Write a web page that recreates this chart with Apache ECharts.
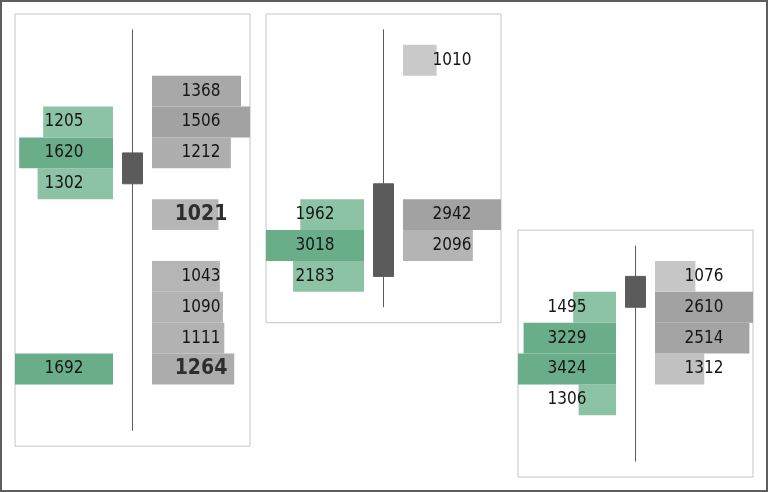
<!DOCTYPE html>
<html>
<head>
<meta charset="utf-8">
<script src="https://cdn.jsdelivr.net/npm/echarts@6/dist/echarts.min.js"></script>
<style>
  html, body { margin: 0; padding: 0; background: #fff; }
  #wrap { position: relative; width: 768px; height: 492px; }
  #chart { width: 768px; height: 492px; }
  #frame { position: absolute; left: 0; top: 0; width: 768px; height: 492px; box-sizing: border-box;
           border: 2px solid #5e5e5e; pointer-events: none; }
</style>
</head>
<body>
<div id="wrap"><div id="chart"></div><div id="frame"></div></div>
<script>
// ---- Data (price levels are row indices, 14 = top row) ----
const candleHigh  = [14, 14, 7];
const candleLow   = [1, 5, 0];
const candleOpen  = [10, 9, 6];
const candleClose = [9, 6, 5];

const bidLevels1 = [11, 10, 9, 3];
const bidVolume1 = [1205, 1620, 1302, 1692];
const askLevels1 = [12, 11, 10, 8, 6, 5, 4, 3];
const askVolume1 = [1368, 1506, 1212, 1021, 1043, 1090, 1111, 1264];
const boldAskLevels1 = [8, 3];

const bidLevels2 = [8, 7, 6];
const bidVolume2 = [1962, 3018, 2183];
const askLevels2 = [13, 8, 7];
const askVolume2 = [1010, 2942, 2096];
const boldAskLevels2 = [];

const bidLevels3 = [5, 4, 3, 2];
const bidVolume3 = [1495, 3229, 3424, 1306];
const askLevels3 = [6, 5, 4, 3];
const askVolume3 = [1076, 2610, 2514, 1312];
const boldAskLevels3 = [];

const panels = [
  { bidL: bidLevels1, bidV: bidVolume1, askL: askLevels1, askV: askVolume1, bold: boldAskLevels1 },
  { bidL: bidLevels2, bidV: bidVolume2, askL: askLevels2, askV: askVolume2, bold: boldAskLevels2 },
  { bidL: bidLevels3, bidV: bidVolume3, askL: askLevels3, askV: askVolume3, bold: boldAskLevels3 }
];

// ---- Layout ----
const topRow = 14;
const rowH = 30.87;
const topY = 14;
const panelLeft = [15, 266, 518];
const panelW = 235;
const sideW = 98;
const rightOffset = 137;
const FONT = '"DejaVu Sans Condensed", "DejaVu Sans", "Noto Sans", sans-serif';

function greenColor(r) { return r >= 0.9 ? '#69ad89' : '#8bc3a4'; }
function grayColor(r) {
  const g = Math.max(160, Math.min(201, Math.round(162 + (1 - r) * 62)));
  return 'rgb(' + g + ',' + g + ',' + g + ')';
}

const grid = [], xAxis = [], yAxis = [], series = [];

panels.forEach((p, i) => {
  const hi = candleHigh[i], lo = candleLow[i];
  const top = topY + (topRow - hi) * rowH;
  const height = (hi - lo + 1) * rowH;
  const P = panelLeft[i];
  const cats = [];
  for (let l = lo; l <= hi; l++) cats.push(String(l));

  // box grid (candle)
  grid.push({ left: P, top: top, width: panelW, height: height, show: true,
              borderColor: '#c4c4c4', borderWidth: 1, backgroundColor: 'transparent' });
  // left (bid) grid
  grid.push({ left: P, top: top, width: sideW, height: height });
  // right (ask) grid
  grid.push({ left: P + rightOffset, top: top, width: sideW, height: height });

  const gb = 3 * i;
  const bidMax = Math.max(...p.bidV), askMax = Math.max(...p.askV);

  xAxis.push({ gridIndex: gb, type: 'category', data: ['c'], show: false });
  yAxis.push({ gridIndex: gb, type: 'value', min: lo - 0.5, max: hi + 0.5, show: false });
  xAxis.push({ gridIndex: gb + 1, type: 'value', min: 0, max: bidMax, inverse: true, show: false });
  yAxis.push({ gridIndex: gb + 1, type: 'category', data: cats, show: false });
  xAxis.push({ gridIndex: gb + 2, type: 'value', min: 0, max: askMax, show: false });
  yAxis.push({ gridIndex: gb + 2, type: 'category', data: cats, show: false });

  series.push({
    type: 'candlestick', xAxisIndex: gb, yAxisIndex: gb, barWidth: 20,
    data: [[candleOpen[i], candleClose[i], lo, hi]],
    itemStyle: { color: '#5b5b5b', color0: '#5b5b5b', borderColor: '#5b5b5b', borderColor0: '#5b5b5b', borderWidth: 1 }
  });

  function sideSeries(levels, vols, max, axisIdx, colorFn, bold) {
    const bars = cats.map(() => '-');
    const labels = cats.map(() => '-');
    levels.forEach((l, j) => {
      const idx = l - lo;
      bars[idx] = { value: vols[j], itemStyle: { color: colorFn(vols[j] / max) } };
      const isBold = bold.indexOf(l) >= 0;
      labels[idx] = { value: max, v: vols[j],
        label: isBold ? { fontWeight: 'bold', fontSize: 21, color: '#2e2e2e' } : {} };
    });
    series.push({ type: 'bar', xAxisIndex: axisIdx, yAxisIndex: axisIdx, data: bars,
      barWidth: '100%', barGap: '-100%', barCategoryGap: 0, silent: true });
    series.push({ type: 'bar', xAxisIndex: axisIdx, yAxisIndex: axisIdx, data: labels,
      barWidth: '100%', barGap: '-100%', barCategoryGap: 0, silent: true,
      itemStyle: { color: 'rgba(0,0,0,0)' },
      label: { show: true, position: 'inside', fontFamily: FONT, fontSize: 17, color: '#151515',
               formatter: (prm) => String(prm.data.v) } });
  }
  sideSeries(p.bidL, p.bidV, bidMax, gb + 1, greenColor, []);
  sideSeries(p.askL, p.askV, askMax, gb + 2, grayColor, p.bold);
});

const chart = echarts.init(document.getElementById('chart'), null, { renderer: 'canvas' });
chart.setOption({ animation: false, backgroundColor: '#ffffff', grid, xAxis, yAxis, series });
</script>
</body>
</html>
